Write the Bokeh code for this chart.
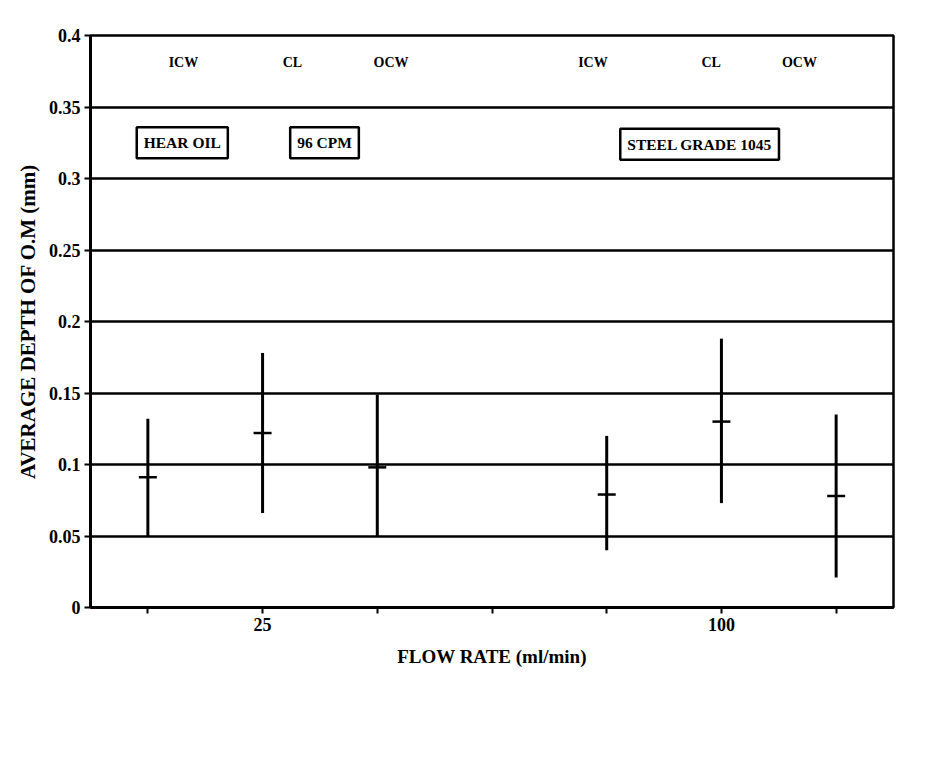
from bokeh.plotting import figure
from bokeh.models import Range1d, FixedTicker, Label, ColumnDataSource
from bokeh.embed import file_html
from bokeh.resources import INLINE

# ---- data ----
slots = [1, 2, 3, 5, 6, 7]                    # x slots on the flow-rate axis
series = ["ICW", "CL", "OCW", "ICW", "CL", "OCW"]
mean_depth = [0.091, 0.122, 0.098, 0.079, 0.130, 0.078]
upper_depth = [0.132, 0.178, 0.149, 0.120, 0.188, 0.135]
lower_depth = [0.050, 0.066, 0.050, 0.040, 0.073, 0.021]
x_tick_slots = [1, 2, 3, 4, 5, 6, 7]
x_tick_labels = ["", "25", "", "", "", "100", ""]
y_ticks = [0, 0.05, 0.1, 0.15, 0.2, 0.25, 0.3, 0.35, 0.4]
y_tick_labels = ["0", "0.05", "0.1", "0.15", "0.2", "0.25", "0.3", "0.35", "0.4"]
box_notes = ["HEAR OIL", "96 CPM", "STEEL GRADE 1045"]

FONT = "Liberation Serif"

src = ColumnDataSource(dict(x=slots, mean=mean_depth, up=upper_depth, lo=lower_depth))

p = figure(width=936, height=745, output_backend="svg", toolbar_location=None,
           x_range=Range1d(0.5, 7.5), y_range=Range1d(0, 0.4),
           frame_width=803, frame_height=572,
           min_border_left=90, min_border_top=35, min_border_right=40, min_border_bottom=100)

p.background_fill_color = "white"
p.border_fill_color = "white"
p.outline_line_color = "black"
p.outline_line_width = 2.5

# grid
p.xgrid.visible = False
p.ygrid.ticker = FixedTicker(ticks=y_ticks)
p.ygrid.grid_line_color = "black"
p.ygrid.grid_line_width = 2.5

# axes
for ax in (p.xaxis[0], p.yaxis[0]):
    ax.axis_line_width = 3
    ax.axis_line_color = "black"
    ax.major_tick_line_width = 2
    ax.major_tick_line_color = "black"
    ax.major_tick_in = 0
    ax.major_tick_out = 6
    ax.minor_tick_line_color = None
    ax.major_label_text_font = FONT
    ax.major_label_text_font_style = "bold"
    ax.major_label_text_font_size = "18px"
    ax.major_label_text_color = "black"
    ax.axis_label_text_font = FONT
    ax.axis_label_text_font_style = "bold"
    ax.axis_label_text_color = "black"

p.xaxis.ticker = FixedTicker(ticks=x_tick_slots)
p.xaxis.major_label_overrides = {t: l for t, l in zip(x_tick_slots, x_tick_labels)}
p.yaxis.ticker = FixedTicker(ticks=y_ticks)
p.yaxis.major_label_overrides = {t: l for t, l in zip(y_ticks, y_tick_labels)}
p.xaxis.axis_label = "FLOW RATE (ml/min)"
p.yaxis.axis_label = "AVERAGE DEPTH OF O.M (mm)"
p.xaxis.axis_label_text_font_size = "19px"
p.yaxis.axis_label_text_font_size = "21px"
p.xaxis.axis_label_standoff = 12
p.yaxis.axis_label_standoff = 6
p.xaxis.major_label_standoff = 4
p.yaxis.major_label_standoff = 4

# error bars and means
p.segment(x0="x", y0="lo", x1="x", y1="up", source=src, line_color="black", line_width=3)
p.scatter(x="x", y="mean", source=src, marker="dash", size=18, line_color="black", line_width=2.5)

# series name labels
name_x = [1.31, 2.26, 3.12, 4.88, 5.91, 6.68]
for nx, name in zip(name_x, series):
    p.add_layout(Label(x=nx, y=0.381, text=name, text_align="center", text_baseline="middle",
                       text_font=FONT, text_font_style="bold", text_font_size="14px",
                       text_color="black"))

# boxed notes
box_pos = [(1.30, 0.325), (2.54, 0.325), (5.81, 0.324)]
for (bx, by), note in zip(box_pos, box_notes):
    p.add_layout(Label(x=bx, y=by, text=note, text_align="center", text_baseline="middle",
                       text_font=FONT, text_font_style="bold", text_font_size="15.5px",
                       text_color="black", border_line_color="black", border_line_width=2.5,
                       background_fill_color="white", padding=7))

open("out.html", "w").write(file_html(p, INLINE))
